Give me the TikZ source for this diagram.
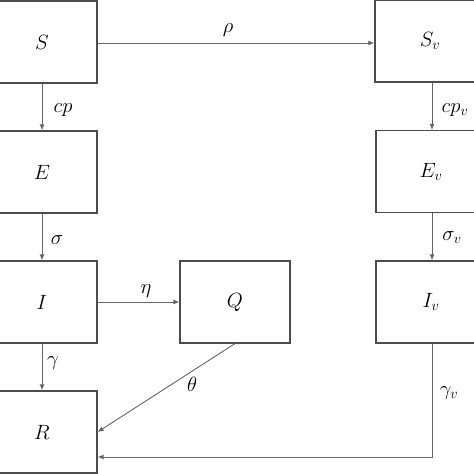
\documentclass[tikz,border=0pt]{standalone}
\usetikzlibrary{arrows.meta,calc}
\begin{document}
\begin{tikzpicture}[x=1bp,y=-1bp,
  box/.style={draw=black!70,line width=1.2bp,minimum width=110bp,minimum height=82bp,inner sep=0pt,font=\fontsize{21}{25}\selectfont},
  flow/.style={draw=black!60,line width=0.9bp,-{Latex[length=6bp,width=5bp]}},
  lab/.style={font=\fontsize{20}{24}\selectfont,inner sep=0pt}]
\useasboundingbox (0,0) rectangle (474,474);
\clip (0,0) rectangle (474,474);
\fill[white] (0,0) rectangle (474,474);
\node[box] (S) at (42,42) {$S$};
\node[box] (E) at (42,172) {$E$};
\node[box] (I) at (42,302) {$I$};
\node[box] (R) at (42,432) {$R$};
\node[box] (Q) at (235,302) {$Q$};
\node[box] (Sv) at (430,41) {$S_v$};
\node[box] (Ev) at (431,171.5) {$E_v$};
\node[box] (Iv) at (431,302) {$I_v$};
\coordinate (corner) at (432,457);
\draw[flow] (S.east |- 0,43) -- (Sv.west |- 0,43);
\draw[flow] (S) -- (E);
\draw[flow] (E) -- (I);
\draw[flow] (I) -- (R);
\draw[flow] (I) -- (Q);
\draw[flow] (Sv.south -| corner) -- (Ev.north -| corner);
\draw[flow] (Ev.south -| corner) -- (Iv.north -| corner);
\draw[flow] (Q.south) -- (R.east);
\draw[flow] (Iv.south -| corner) -- (corner) -- (corner -| R.east);
\node[lab] (lrho) at (228,30) {$\rho$};
\node[lab] (lcp) at (63,110) {$cp$};
\node[lab] (lcpv) at (455,110) {$cp_v$};
\node[lab] (lsig) at (57,240) {$\sigma$};
\node[lab] (lsigv) at (452,238) {$\sigma_v$};
\node[lab] (leta) at (146,291) {$\eta$};
\node[lab] (lgam) at (53,363) {$\gamma$};
\node[lab] (lth) at (192,384) {$\theta$};
\node[lab] (lgamv) at (449,393) {$\gamma_v$};
\end{tikzpicture}
\end{document}
